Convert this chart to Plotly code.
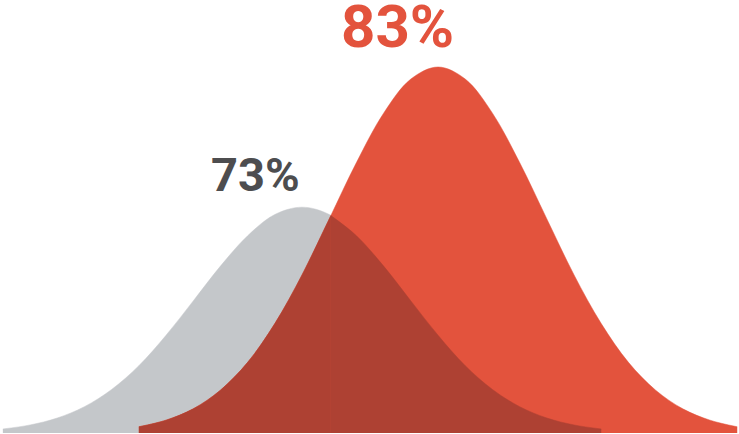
import plotly.graph_objects as go

# Score axis (percent) and relative curve heights
gray_x = [51, 53, 55, 57, 59, 61, 63, 65, 67, 69, 71, 73, 75, 77, 79, 81, 83, 85, 87, 89, 91, 93, 95]
gray_y = [0.011, 0.022, 0.041, 0.072, 0.119, 0.184, 0.267, 0.361, 0.456, 0.539, 0.597, 0.617,
          0.597, 0.539, 0.456, 0.361, 0.267, 0.184, 0.119, 0.072, 0.041, 0.022, 0.011]
red_x = [61, 63, 65, 67, 69, 71, 73, 75, 77, 79, 81, 83, 85, 87, 89, 91, 93, 95, 97, 99, 101, 103, 105]
red_y = [0.017, 0.035, 0.066, 0.117, 0.193, 0.299, 0.432, 0.585, 0.739, 0.874, 0.967, 1.0,
         0.967, 0.874, 0.739, 0.585, 0.432, 0.299, 0.193, 0.117, 0.066, 0.035, 0.017]
# where the two curves cross
cross_x = 75.12
cross_y = 0.594

labels = ["73%", "83%"]
label_x = [69.6, 80.05]

GRAY = "#C4C7CA"
RED = "#E3533D"
DARK = "#AE4133"
TEXT_GRAY = "#4D4D4F"

# overlap pieces: red curve left of crossing, gray curve right of it
ov_left_x = [x for x in red_x if x < cross_x] + [cross_x]
ov_left_y = [y for x, y in zip(red_x, red_y) if x < cross_x] + [cross_y]
ov_right_x = [cross_x] + [x for x in gray_x if x > cross_x]
ov_right_y = [cross_y] + [y for x, y in zip(gray_x, gray_y) if x > cross_x]

fig = go.Figure()

def area(x, y, color):
    fig.add_trace(go.Scatter(
        x=x, y=y, mode="lines", fill="tozeroy", fillcolor=color,
        line=dict(color=color, width=0.5, shape="spline", smoothing=1.0),
        hoverinfo="skip", showlegend=False))

area(gray_x, gray_y, GRAY)
area(red_x, red_y, RED)
area(ov_left_x, ov_left_y, DARK)
area(ov_right_x, ov_right_y, DARK)

FONT = "Roboto, Lato, sans-serif"
fig.add_annotation(x=label_x[0], y=0.597, xref="x", yref="paper", text="<b>%s</b>" % labels[0],
                   showarrow=False, font=dict(family=FONT, size=47, color=TEXT_GRAY),
                   xanchor="center", yanchor="middle")
fig.add_annotation(x=label_x[1], y=0.939, xref="x", yref="paper", text="<b>%s</b>" % labels[1],
                   showarrow=False, font=dict(family=FONT, size=60, color=RED),
                   xanchor="center", yanchor="middle")

fig.update_layout(
    width=739, height=434, autosize=False,
    margin=dict(l=0, r=0, t=0, b=0),
    paper_bgcolor="white", plot_bgcolor="white",
    xaxis=dict(range=[50.79, 105.13], visible=False, fixedrange=True),
    yaxis=dict(range=[-0.00273, 1.1831], visible=False, fixedrange=True),
)

fig.write_html("out.html", config={"displayModeBar": False},
               post_script="document.body.style.margin='0';document.body.style.overflow='hidden';")
